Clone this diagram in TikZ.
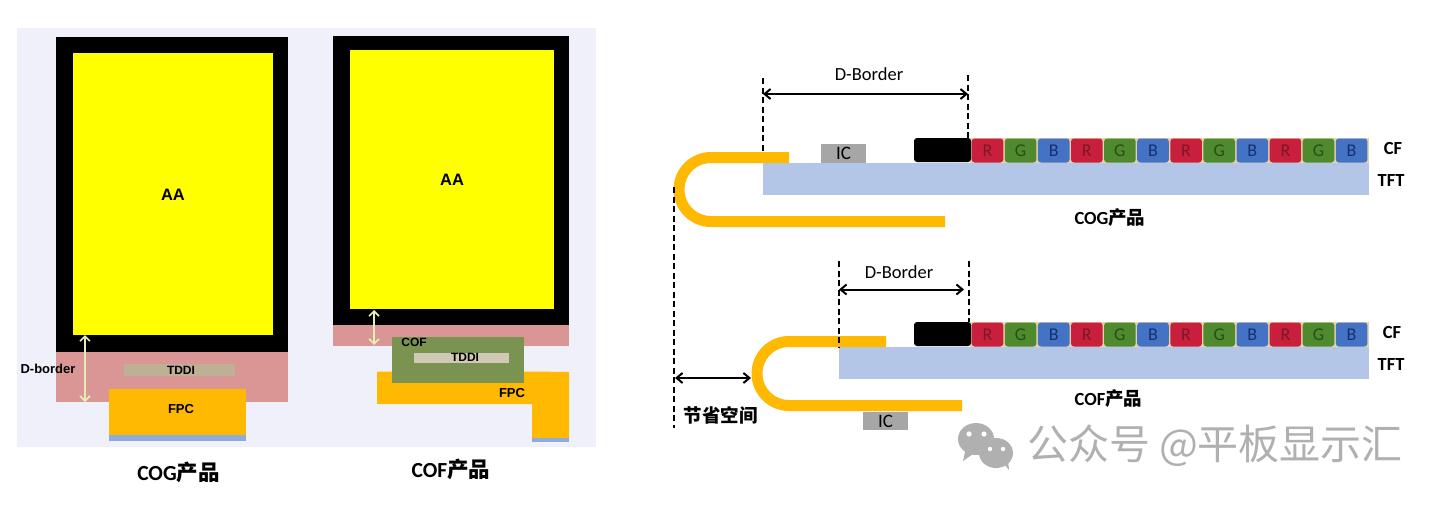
\documentclass[tikz,border=0pt]{standalone}
\usepackage{fontspec}
\usetikzlibrary{arrows.meta}
\setmainfont{Liberation Sans}
\newfontfamily\crl{Carlito}
\newfontfamily\cjkf{Noto Sans CJK SC}
\newcommand{\fsz}[1]{\fontsize{#1}{#1}\selectfont}
\definecolor{panel}{HTML}{F0F0FA}
\definecolor{pureyellow}{HTML}{FFFF00}
\definecolor{pinkb}{HTML}{DA9694}
\definecolor{tddi}{HTML}{BDB095}
\definecolor{fpc}{HTML}{FFB900}
\definecolor{strip}{HTML}{8FAADC}
\definecolor{cofg}{HTML}{7A9350}
\definecolor{tft}{HTML}{B4C6E7}
\definecolor{icg}{HTML}{A6A6A6}
\definecolor{cfr}{HTML}{C8203C}
\definecolor{cfg}{HTML}{4F8A2E}
\definecolor{cfb}{HTML}{4472C4}
\definecolor{cft}{HTML}{E6D2A8}
\definecolor{txr}{HTML}{7C1726}
\definecolor{txg}{HTML}{264F16}
\definecolor{txb}{HTML}{162F70}
\definecolor{lightarrow}{HTML}{E4EDB8}
\definecolor{wm}{HTML}{B0B0B0}
\tikzset{
  lab/.style={inner sep=0pt,font=\fsz{13}\bfseries},
  biglab/.style={inner sep=0pt,font=\fsz{16.5}\bfseries},
  title/.style={inner sep=0pt,font=\fsz{21.5}\crl\bfseries},
  rlab/.style={inner sep=0pt,font=\fsz{18.5}\crl},
  blab/.style={inner sep=0pt,font=\fsz{18.5}\crl\bfseries},
  flex/.style={draw=fpc,line width=11pt,line cap=butt},
  dashline/.style={draw=black,line width=2pt,dash pattern=on 6pt off 3.5pt},
  dim/.style={draw=black,line width=2pt,{Straight Barb[length=6pt,width=10pt]}-{Straight Barb[length=6pt,width=10pt]}},
  pale/.style={draw=lightarrow,line width=1.6pt,{Straight Barb[length=5pt,width=10pt]}-{Straight Barb[length=5pt,width=10pt]}},
  cell/.style={inner sep=0pt,minimum width=31.6pt,minimum height=24pt,rounded corners=3pt,font=\fsz{18}\crl},
  icbox/.style={inner sep=0pt,fill=icg,minimum width=45pt,font=\fsz{19}\crl},
}
\newcommand{\cells}[2]{% y centre, name prefix
  \fill[cft] (970,#1-12.6) rectangle (1369,#1+12.6);
  \foreach \i/\c/\t/\k in {0/cfr/txr/R,1/cfg/txg/G,2/cfb/txb/B,3/cfr/txr/R,4/cfg/txg/G,5/cfb/txb/B,6/cfr/txr/R,7/cfg/txg/G,8/cfb/txb/B,9/cfr/txr/R,10/cfg/txg/G,11/cfb/txb/B}{
    \node[cell,fill=\c,text=\t] (#2\i) at ({987.5+\i*33.1},#1) {\k};
  }
}
\begin{document}
\begin{tikzpicture}[x=1pt,y=-1pt]
\useasboundingbox[fill=white] (0,0) rectangle (1440,506);
% left panel
\fill[panel] (17,28) rectangle (596,447);
% COG front view
\fill[black] (56,37) rectangle (288,352);
\fill[pureyellow] (73,53) rectangle (273,335);
\fill[pinkb] (56,352) rectangle (288,402);
\fill[tddi] (124,364) rectangle (235,376);
\fill[fpc] (109,389) rectangle (246,435);
\fill[strip] (109,435) rectangle (246,441);
\coordinate (a1) at (85,335); \coordinate (a2) at (85,402);
\draw[pale] (a1) -- (a2);
\node[biglab] (aa1) at (173,194.5) {AA};
\node[lab] (db1) at (48,369) {D-border};
\node[lab,font=\fsz{12}\bfseries] (td1) at (181,370) {TDDI};
\node[lab] (fp1) at (181,409) {FPC};
\node[title] (t1) at (178.5,472) {COG{\cjkf\bfseries 产品}};
% COF front view
\fill[black] (333,36) rectangle (569,325);
\fill[pureyellow] (350,50) rectangle (554,309);
\fill[pinkb] (333,325) rectangle (569,346);
\fill[fpc] (377,371.5) -- (532,371.5) -- (569,372) -- (569,438) -- (532,438) -- (532,404) -- (377,404) -- cycle;
\fill[strip] (532,438) rectangle (569,442);
\fill[cofg] (392,337) rectangle (524,383);
\fill[tddi!70!white] (414,353) rectangle (509,363);
\coordinate (b1) at (374,310); \coordinate (b2) at (374,345);
\draw[pale] (b1) -- (b2);
\node[biglab] (aa2) at (452,180) {AA};
\node[lab,font=\fsz{12}\bfseries] (co2) at (414,342) {COF};
\node[lab,font=\fsz{12}\bfseries] (td2) at (465,357.5) {TDDI};
\node[lab] (fp2) at (512,393) {FPC};
\node[title] (t2) at (451,469) {COF{\cjkf\bfseries 产品}};
% COG cross-section
\fill[tft] (763,163) rectangle (1369,195);
\cells{150.5}{u}
\fill[black,rounded corners=3pt] (914,138) rectangle (971,162);
\node[icbox,minimum height=19pt] (ic1) at (843.5,153.5) {IC};
\draw[flex] (789,157.5) -- (711,157.5) arc[start angle=270,end angle=90,radius=32] -- (945,221.5);
\coordinate (d1t) at (763,78); \coordinate (d1b) at (763,152);
\coordinate (d2t) at (968,75); \coordinate (d2b) at (968,138);
\coordinate (d1a) at (763,94); \coordinate (d2a) at (968,94);
\draw[dashline] (d1t) -- (d1b);
\draw[dashline] (d2t) -- (d2b);
\draw[dim] (d1a) -- (d2a);
\node[rlab] (dl1) at (869,74) {D-Border};
\node[blab] (cf1) at (1393,148) {CF};
\node[blab] (tf1) at (1391,180) {TFT};
\node[title,font=\fsz{18.5}\crl\bfseries] (t3) at (1110,218) {COG{\cjkf\bfseries 产品}};
% COF cross-section
\fill[tft] (839,347) rectangle (1369,379);
\cells{334.5}{l}
\fill[black,rounded corners=3pt] (914,322) rectangle (971,346);
\draw[flex] (886,341.5) -- (789,341.5) arc[start angle=270,end angle=90,radius=32] -- (962,405.5);
\node[icbox,minimum height=18pt] (ic2) at (885.5,421) {IC};
\coordinate (e1t) at (838.5,261); \coordinate (e1b) at (838.5,347);
\coordinate (e2t) at (969,261); \coordinate (e2b) at (969,322);
\coordinate (e1a) at (839,289.5); \coordinate (e2a) at (964,289.5);
\draw[dashline] (e1t) -- (e1b);
\draw[dashline] (e2t) -- (e2b);
\draw[dim] (e1a) -- (e2a);
\node[rlab] (dl2) at (899,272) {D-Border};
\node[blab] (cf2) at (1392,332) {CF};
\node[blab] (tf2) at (1391,364) {TFT};
\node[title,font=\fsz{18.5}\crl\bfseries] (t4) at (1108.5,399) {COF{\cjkf\bfseries 产品}};
% saved space
\coordinate (s1t) at (673.5,187); \coordinate (s1b) at (673.5,428);
\coordinate (s1a) at (675,378); \coordinate (s2a) at (751,378);
\draw[dashline] (s1t) -- (s1b);
\draw[dim] (s1a) -- (s2a);
\node[inner sep=0pt,font=\fsz{18.5}\cjkf\bfseries] (sv) at (720.5,415.5) {节省空间};
% watermark
\fill[wm] (976,439) ellipse[x radius=18,y radius=16];
\fill[wm] (965,452) -- (963,461) -- (973,454) -- cycle;
\fill[white] (997,454) ellipse[x radius=18,y radius=16];
\fill[wm] (996,453) ellipse[x radius=17,y radius=15];
\fill[wm] (1004,464) -- (1009,470) -- (1008,460) -- cycle;
\foreach \p in {(969,434),(984,434)} \fill[white] \p circle[radius=2.6];
\foreach \p in {(990,449),(1003,449)} \fill[white] \p circle[radius=2.2];
\node[inner sep=0pt,text=wm,font=\fsz{41}\cjkf] (wmk) at (1215,446) {公众号 @平板显示汇};
\end{tikzpicture}
\end{document}
